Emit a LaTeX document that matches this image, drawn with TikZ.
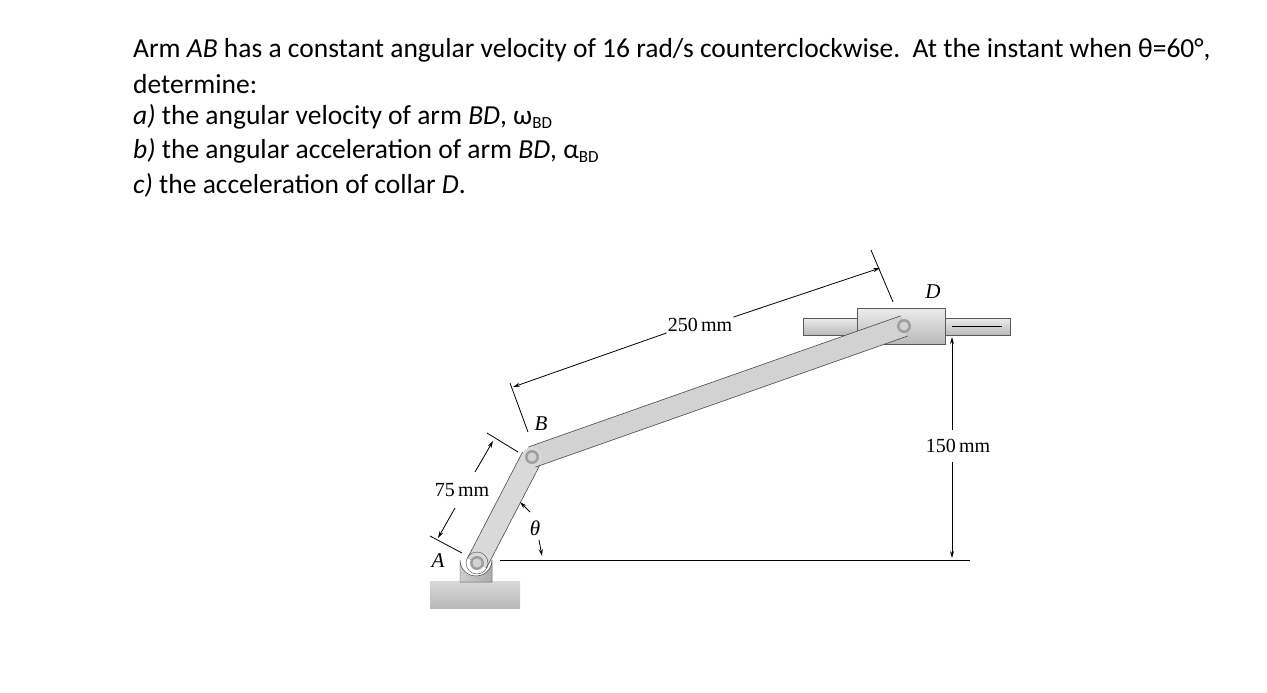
\documentclass[tikz,border=0pt]{standalone}
\usepackage{fontspec}
\setmainfont{Liberation Serif}
\newfontfamily\calfont{Carlito}
\usetikzlibrary{arrows.meta}
\begin{document}
\begin{tikzpicture}[x=1pt,y=-1pt,
 txt/.style={font=\calfont\fontsize{27.5}{30}\selectfont,anchor=west,inner sep=0},
 lab/.style={font=\fontsize{21}{24}\selectfont\itshape,inner sep=0},
 dim/.style={font=\fontsize{20}{24}\selectfont,inner sep=1pt},
 dl/.style={line width=0.8pt},
 da/.style={dl,-{Stealth[length=7pt,width=4pt]}},
 bar/.style={draw=gray!70!black,line width=0.6pt,top color=gray!15,bottom color=gray!55}]
\useasboundingbox (0,0) rectangle (1267,693);
\node[txt] (t1) at (133,50) {Arm \textit{AB} has a constant angular velocity of 16 rad/s counterclockwise.\ \ At the instant when θ=60°,};
\node[txt] (t2) at (133,84) {determine:};
\node[txt] (t3) at (133,117) {\textit{a)} the angular velocity of arm \textit{BD}, ω\textsubscript{\fontsize{17}{17}\selectfont BD}};
\node[txt] (t4) at (133,151) {\textit{b)} the angular acceleration of arm \textit{BD}, α\textsubscript{\fontsize{17}{17}\selectfont BD}};
\node[txt] (t5) at (133,185) {\textit{c)} the acceleration of collar \textit{D}.};
% ground
\fill[top color=gray!30,bottom color=gray!55] (430,581) rectangle (520,608);
\draw[dl] (500,560) -- (970,560);
\fill[left color=gray!40,right color=gray!65,draw=gray!60!black] (460,582) -- (460,560) arc (180:0:16) -- (492,582) -- cycle;
% rod
\draw[bar] (803,318) rectangle (1010,335);
% links
\coordinate (A) at (477,563);
\coordinate (B) at (532,457);
\coordinate (D) at (904,326);
\draw[gray!60!black,line width=22pt] (A) -- (B);
\draw[gray!30,line width=20.5pt] (A) -- (B);
\draw[bar] (857,308) rectangle (945,344);
\draw[gray!60!black,line width=22pt] (B) -- (D);
\draw[gray!35,line width=20.5pt] (B) -- (D);
\fill[gray!30] (B) circle (10);
\draw[dl] (904,326) ++(48,0) -- ++(50,0);
\foreach \p in {A,B,D}{\fill[gray!75] (\p) circle (7); \fill[gray!35] (\p) circle (4.5);}
\draw[gray!60!black] (A) circle (11);
% labels
\node[lab] (lA) at (438,561) {A};
\node[lab] (lB) at (541,424) {B};
\node[lab] (lD) at (933,292) {D};
% 250 dim
\coordinate (e1a) at (510,383); \coordinate (e1b) at (528,432);
\coordinate (e2a) at (871,250); \coordinate (e2b) at (893,302);
\draw[dl] (e1a) -- (e1b); \draw[dl] (e2a) -- (e2b);
\node[dim,fill=white] (d250) at (700,325) {250\,mm};
\draw[da] (d250.south west) -- (513,387);
\draw[da] (d250.north east) -- (880,268);
% 75 dim
\draw[dl] (487,433) -- (518,452);
\draw[dl] (430,536) -- (462,553);
\node[dim] (d75) at (462,490) {75\,mm};
\draw[da] (475,472) -- (493,441);
\draw[da] (455,508) -- (438,538);
% theta
\node[lab] (th) at (535,528) {θ};
\draw[da] (530,512) -- (520,502);
\draw[da] (539,540) -- (542,556);
% 150 dim
\node[dim] (d150) at (958,446) {150\,mm};
\draw[da] (952,430) -- (952,337);
\draw[da] (952,462) -- (952,558);
\end{tikzpicture}
\end{document}
